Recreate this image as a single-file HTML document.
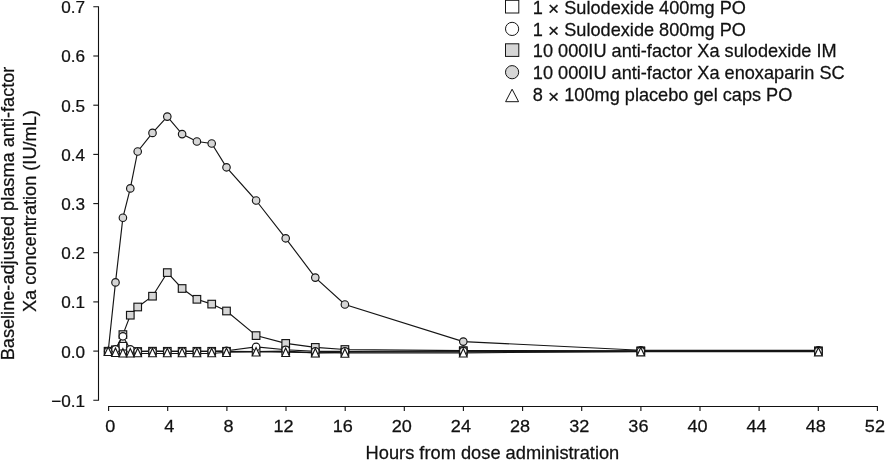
<!DOCTYPE html>
<html><head><meta charset="utf-8"><title>Chart</title>
<style>
html,body{margin:0;padding:0;background:#fff;}
body{width:885px;height:460px;overflow:hidden;}
svg{display:block;}
text{font-family:"Liberation Sans",sans-serif;font-size:17.5px;fill:#111;stroke:#111;stroke-width:0.25px;}
text.n{font-size:16.9px;}
</style></head><body>
<svg width="885" height="460" viewBox="0 0 885 460">
<rect width="885" height="460" fill="#fff"/>
<path d="M93.3 6.8H98.5V400.3H93.3" fill="none" stroke="#111" stroke-width="1.1"/>
<path d="M93.3 56.0H98.5" stroke="#111" stroke-width="1.1"/>
<path d="M93.3 105.2H98.5" stroke="#111" stroke-width="1.1"/>
<path d="M93.3 154.4H98.5" stroke="#111" stroke-width="1.1"/>
<path d="M93.3 203.6H98.5" stroke="#111" stroke-width="1.1"/>
<path d="M93.3 252.7H98.5" stroke="#111" stroke-width="1.1"/>
<path d="M93.3 301.9H98.5" stroke="#111" stroke-width="1.1"/>
<path d="M93.3 351.1H98.5" stroke="#111" stroke-width="1.1"/>
<path d="M108.6 411V406.5H877.4V411" fill="none" stroke="#111" stroke-width="1.1"/>
<path d="M167.7 406.5V411" stroke="#111" stroke-width="1.1"/>
<path d="M226.9 406.5V411" stroke="#111" stroke-width="1.1"/>
<path d="M286.0 406.5V411" stroke="#111" stroke-width="1.1"/>
<path d="M345.2 406.5V411" stroke="#111" stroke-width="1.1"/>
<path d="M404.3 406.5V411" stroke="#111" stroke-width="1.1"/>
<path d="M463.4 406.5V411" stroke="#111" stroke-width="1.1"/>
<path d="M522.6 406.5V411" stroke="#111" stroke-width="1.1"/>
<path d="M581.7 406.5V411" stroke="#111" stroke-width="1.1"/>
<path d="M640.9 406.5V411" stroke="#111" stroke-width="1.1"/>
<path d="M700.0 406.5V411" stroke="#111" stroke-width="1.1"/>
<path d="M759.1 406.5V411" stroke="#111" stroke-width="1.1"/>
<path d="M818.3 406.5V411" stroke="#111" stroke-width="1.1"/>
<polyline points="108.2,351.3 115.5,282.4 122.9,217.7 130.3,188.4 137.7,151.5 152.5,132.9 167.3,116.6 182.1,134.1 196.9,141.5 211.7,143.5 226.5,167.3 256.1,200.5 285.7,238.3 315.3,277.6 344.9,304.5 463.3,341.6 640.8,350.3 818.4,350.4" fill="none" stroke="#151515" stroke-width="1.15"/>
<polyline points="108.2,351.3 115.5,349.8 122.9,334.6 130.3,315.2 137.7,307.0 152.5,296.2 167.3,272.6 182.1,288.5 196.9,299.3 211.7,304.1 226.5,311.0 256.1,335.6 285.7,343.4 315.3,347.4 344.9,349.5 463.3,350.6 640.8,350.8 818.4,350.8" fill="none" stroke="#151515" stroke-width="1.15"/>
<polyline points="108.2,351.3 115.5,350.3 122.9,346.2 130.3,351.3 137.7,351.5 152.5,351.2 167.3,351.3 182.1,351.3 196.9,351.3 211.7,351.3 226.5,351.3 256.1,351.5 285.7,351.1 315.3,352.8 344.9,352.3 463.3,351.8 640.8,351.3 818.4,351.3" fill="none" stroke="#151515" stroke-width="1.15"/>
<polyline points="108.2,351.3 115.5,349.3 122.9,336.3 130.3,349.3 137.7,351.3 152.5,351.3 167.3,351.3 182.1,351.3 196.9,351.3 211.7,351.3 226.5,350.8 256.1,346.9 285.7,349.8 315.3,351.3 344.9,351.3 463.3,351.1 640.8,351.1 818.4,351.1" fill="none" stroke="#151515" stroke-width="1.15"/>
<polyline points="108.2,351.3 115.5,353.3 122.9,353.8 130.3,353.8 137.7,353.5 152.5,353.5 167.3,353.5 182.1,353.5 196.9,353.5 211.7,353.5 226.5,352.3 256.1,351.8 285.7,352.3 315.3,352.8 344.9,353.0 463.3,352.8 640.8,351.7 818.4,351.7" fill="none" stroke="#151515" stroke-width="1.15"/>
<rect x="104.4" y="347.5" width="7.6" height="7.6" fill="#d6d6d6" stroke="#151515" stroke-width="1.15"/>
<rect x="111.7" y="346.0" width="7.6" height="7.6" fill="#d6d6d6" stroke="#151515" stroke-width="1.15"/>
<rect x="119.1" y="330.8" width="7.6" height="7.6" fill="#d6d6d6" stroke="#151515" stroke-width="1.15"/>
<rect x="126.5" y="311.4" width="7.6" height="7.6" fill="#d6d6d6" stroke="#151515" stroke-width="1.15"/>
<rect x="133.9" y="303.2" width="7.6" height="7.6" fill="#d6d6d6" stroke="#151515" stroke-width="1.15"/>
<rect x="148.7" y="292.4" width="7.6" height="7.6" fill="#d6d6d6" stroke="#151515" stroke-width="1.15"/>
<rect x="163.5" y="268.8" width="7.6" height="7.6" fill="#d6d6d6" stroke="#151515" stroke-width="1.15"/>
<rect x="178.3" y="284.7" width="7.6" height="7.6" fill="#d6d6d6" stroke="#151515" stroke-width="1.15"/>
<rect x="193.1" y="295.5" width="7.6" height="7.6" fill="#d6d6d6" stroke="#151515" stroke-width="1.15"/>
<rect x="207.9" y="300.3" width="7.6" height="7.6" fill="#d6d6d6" stroke="#151515" stroke-width="1.15"/>
<rect x="222.7" y="307.2" width="7.6" height="7.6" fill="#d6d6d6" stroke="#151515" stroke-width="1.15"/>
<rect x="252.3" y="331.8" width="7.6" height="7.6" fill="#d6d6d6" stroke="#151515" stroke-width="1.15"/>
<rect x="281.9" y="339.6" width="7.6" height="7.6" fill="#d6d6d6" stroke="#151515" stroke-width="1.15"/>
<rect x="311.5" y="343.6" width="7.6" height="7.6" fill="#d6d6d6" stroke="#151515" stroke-width="1.15"/>
<rect x="341.1" y="345.7" width="7.6" height="7.6" fill="#d6d6d6" stroke="#151515" stroke-width="1.15"/>
<rect x="459.5" y="346.8" width="7.6" height="7.6" fill="#d6d6d6" stroke="#151515" stroke-width="1.15"/>
<rect x="637.0" y="347.0" width="7.6" height="7.6" fill="#d6d6d6" stroke="#151515" stroke-width="1.15"/>
<rect x="814.6" y="347.0" width="7.6" height="7.6" fill="#d6d6d6" stroke="#151515" stroke-width="1.15"/>
<circle cx="108.2" cy="351.3" r="3.75" fill="#d6d6d6" stroke="#151515" stroke-width="1.15"/>
<circle cx="115.5" cy="282.4" r="3.75" fill="#d6d6d6" stroke="#151515" stroke-width="1.15"/>
<circle cx="122.9" cy="217.7" r="3.75" fill="#d6d6d6" stroke="#151515" stroke-width="1.15"/>
<circle cx="130.3" cy="188.4" r="3.75" fill="#d6d6d6" stroke="#151515" stroke-width="1.15"/>
<circle cx="137.7" cy="151.5" r="3.75" fill="#d6d6d6" stroke="#151515" stroke-width="1.15"/>
<circle cx="152.5" cy="132.9" r="3.75" fill="#d6d6d6" stroke="#151515" stroke-width="1.15"/>
<circle cx="167.3" cy="116.6" r="3.75" fill="#d6d6d6" stroke="#151515" stroke-width="1.15"/>
<circle cx="182.1" cy="134.1" r="3.75" fill="#d6d6d6" stroke="#151515" stroke-width="1.15"/>
<circle cx="196.9" cy="141.5" r="3.75" fill="#d6d6d6" stroke="#151515" stroke-width="1.15"/>
<circle cx="211.7" cy="143.5" r="3.75" fill="#d6d6d6" stroke="#151515" stroke-width="1.15"/>
<circle cx="226.5" cy="167.3" r="3.75" fill="#d6d6d6" stroke="#151515" stroke-width="1.15"/>
<circle cx="256.1" cy="200.5" r="3.75" fill="#d6d6d6" stroke="#151515" stroke-width="1.15"/>
<circle cx="285.7" cy="238.3" r="3.75" fill="#d6d6d6" stroke="#151515" stroke-width="1.15"/>
<circle cx="315.3" cy="277.6" r="3.75" fill="#d6d6d6" stroke="#151515" stroke-width="1.15"/>
<circle cx="344.9" cy="304.5" r="3.75" fill="#d6d6d6" stroke="#151515" stroke-width="1.15"/>
<circle cx="463.3" cy="341.6" r="3.75" fill="#d6d6d6" stroke="#151515" stroke-width="1.15"/>
<circle cx="640.8" cy="350.3" r="3.75" fill="#d6d6d6" stroke="#151515" stroke-width="1.15"/>
<circle cx="818.4" cy="350.4" r="3.75" fill="#d6d6d6" stroke="#151515" stroke-width="1.15"/>
<rect x="104.4" y="347.5" width="7.6" height="7.6" fill="#fff" stroke="#151515" stroke-width="1.15"/>
<rect x="111.7" y="346.5" width="7.6" height="7.6" fill="#fff" stroke="#151515" stroke-width="1.15"/>
<rect x="119.1" y="342.4" width="7.6" height="7.6" fill="#fff" stroke="#151515" stroke-width="1.15"/>
<rect x="126.5" y="347.5" width="7.6" height="7.6" fill="#fff" stroke="#151515" stroke-width="1.15"/>
<rect x="133.9" y="347.7" width="7.6" height="7.6" fill="#fff" stroke="#151515" stroke-width="1.15"/>
<rect x="148.7" y="347.4" width="7.6" height="7.6" fill="#fff" stroke="#151515" stroke-width="1.15"/>
<rect x="163.5" y="347.5" width="7.6" height="7.6" fill="#fff" stroke="#151515" stroke-width="1.15"/>
<rect x="178.3" y="347.5" width="7.6" height="7.6" fill="#fff" stroke="#151515" stroke-width="1.15"/>
<rect x="193.1" y="347.5" width="7.6" height="7.6" fill="#fff" stroke="#151515" stroke-width="1.15"/>
<rect x="207.9" y="347.5" width="7.6" height="7.6" fill="#fff" stroke="#151515" stroke-width="1.15"/>
<rect x="222.7" y="347.5" width="7.6" height="7.6" fill="#fff" stroke="#151515" stroke-width="1.15"/>
<rect x="252.3" y="347.7" width="7.6" height="7.6" fill="#fff" stroke="#151515" stroke-width="1.15"/>
<rect x="281.9" y="347.3" width="7.6" height="7.6" fill="#fff" stroke="#151515" stroke-width="1.15"/>
<rect x="311.5" y="349.0" width="7.6" height="7.6" fill="#fff" stroke="#151515" stroke-width="1.15"/>
<rect x="341.1" y="348.5" width="7.6" height="7.6" fill="#fff" stroke="#151515" stroke-width="1.15"/>
<rect x="459.5" y="348.0" width="7.6" height="7.6" fill="#fff" stroke="#151515" stroke-width="1.15"/>
<rect x="637.0" y="347.5" width="7.6" height="7.6" fill="#fff" stroke="#151515" stroke-width="1.15"/>
<rect x="814.6" y="347.5" width="7.6" height="7.6" fill="#fff" stroke="#151515" stroke-width="1.15"/>
<circle cx="108.2" cy="351.3" r="3.75" fill="#fff" stroke="#151515" stroke-width="1.15"/>
<circle cx="115.5" cy="349.3" r="3.75" fill="#fff" stroke="#151515" stroke-width="1.15"/>
<circle cx="122.9" cy="336.3" r="3.75" fill="#fff" stroke="#151515" stroke-width="1.15"/>
<circle cx="130.3" cy="349.3" r="3.75" fill="#fff" stroke="#151515" stroke-width="1.15"/>
<circle cx="137.7" cy="351.3" r="3.75" fill="#fff" stroke="#151515" stroke-width="1.15"/>
<circle cx="152.5" cy="351.3" r="3.75" fill="#fff" stroke="#151515" stroke-width="1.15"/>
<circle cx="167.3" cy="351.3" r="3.75" fill="#fff" stroke="#151515" stroke-width="1.15"/>
<circle cx="182.1" cy="351.3" r="3.75" fill="#fff" stroke="#151515" stroke-width="1.15"/>
<circle cx="196.9" cy="351.3" r="3.75" fill="#fff" stroke="#151515" stroke-width="1.15"/>
<circle cx="211.7" cy="351.3" r="3.75" fill="#fff" stroke="#151515" stroke-width="1.15"/>
<circle cx="226.5" cy="350.8" r="3.75" fill="#fff" stroke="#151515" stroke-width="1.15"/>
<circle cx="256.1" cy="346.9" r="3.75" fill="#fff" stroke="#151515" stroke-width="1.15"/>
<circle cx="285.7" cy="349.8" r="3.75" fill="#fff" stroke="#151515" stroke-width="1.15"/>
<circle cx="315.3" cy="351.3" r="3.75" fill="#fff" stroke="#151515" stroke-width="1.15"/>
<circle cx="344.9" cy="351.3" r="3.75" fill="#fff" stroke="#151515" stroke-width="1.15"/>
<circle cx="463.3" cy="351.1" r="3.75" fill="#fff" stroke="#151515" stroke-width="1.15"/>
<circle cx="640.8" cy="351.1" r="3.75" fill="#fff" stroke="#151515" stroke-width="1.15"/>
<circle cx="818.4" cy="351.1" r="3.75" fill="#fff" stroke="#151515" stroke-width="1.15"/>
<polygon points="108.2,347.1 104.2,355.5 112.1,355.5" fill="#fff" stroke="#151515" stroke-width="1.15"/>
<polygon points="115.5,348.1 111.6,356.5 119.4,356.5" fill="#fff" stroke="#151515" stroke-width="1.15"/>
<polygon points="122.9,348.6 119.0,357.0 126.8,357.0" fill="#fff" stroke="#151515" stroke-width="1.15"/>
<polygon points="130.3,348.6 126.4,357.0 134.2,357.0" fill="#fff" stroke="#151515" stroke-width="1.15"/>
<polygon points="137.7,348.3 133.8,356.7 141.6,356.7" fill="#fff" stroke="#151515" stroke-width="1.15"/>
<polygon points="152.5,348.3 148.6,356.7 156.4,356.7" fill="#fff" stroke="#151515" stroke-width="1.15"/>
<polygon points="167.3,348.3 163.4,356.7 171.2,356.7" fill="#fff" stroke="#151515" stroke-width="1.15"/>
<polygon points="182.1,348.3 178.2,356.7 186.0,356.7" fill="#fff" stroke="#151515" stroke-width="1.15"/>
<polygon points="196.9,348.3 193.0,356.7 200.8,356.7" fill="#fff" stroke="#151515" stroke-width="1.15"/>
<polygon points="211.7,348.3 207.8,356.7 215.6,356.7" fill="#fff" stroke="#151515" stroke-width="1.15"/>
<polygon points="226.5,348.1 222.6,356.5 230.4,356.5" fill="#fff" stroke="#151515" stroke-width="1.15"/>
<polygon points="256.1,347.6 252.2,356.0 260.0,356.0" fill="#fff" stroke="#151515" stroke-width="1.15"/>
<polygon points="285.7,348.1 281.8,356.5 289.6,356.5" fill="#fff" stroke="#151515" stroke-width="1.15"/>
<polygon points="315.3,348.6 311.4,357.0 319.2,357.0" fill="#fff" stroke="#151515" stroke-width="1.15"/>
<polygon points="344.9,348.8 341.0,357.2 348.8,357.2" fill="#fff" stroke="#151515" stroke-width="1.15"/>
<polygon points="463.3,348.6 459.4,357.0 467.2,357.0" fill="#fff" stroke="#151515" stroke-width="1.15"/>
<polygon points="640.8,347.5 636.9,355.9 644.7,355.9" fill="#fff" stroke="#151515" stroke-width="1.15"/>
<polygon points="818.4,347.5 814.5,355.9 822.3,355.9" fill="#fff" stroke="#151515" stroke-width="1.15"/>
<text transform="translate(85.0 13.2) scale(1.015 1)" text-anchor="end" class="n">0.7</text>
<text transform="translate(85.0 62.4) scale(1.015 1)" text-anchor="end" class="n">0.6</text>
<text transform="translate(85.0 111.6) scale(1.015 1)" text-anchor="end" class="n">0.5</text>
<text transform="translate(85.0 160.8) scale(1.015 1)" text-anchor="end" class="n">0.4</text>
<text transform="translate(85.0 210.0) scale(1.015 1)" text-anchor="end" class="n">0.3</text>
<text transform="translate(85.0 259.1) scale(1.015 1)" text-anchor="end" class="n">0.2</text>
<text transform="translate(85.0 308.3) scale(1.015 1)" text-anchor="end" class="n">0.1</text>
<text transform="translate(85.0 357.5) scale(1.015 1)" text-anchor="end" class="n">0.0</text>
<text transform="translate(85.0 406.7) scale(1.015 1)" text-anchor="end" class="n">−0.1</text>
<text transform="translate(110.2 432.3) scale(1.07 1)" text-anchor="middle" class="n">0</text>
<text transform="translate(169.3 432.3) scale(1.07 1)" text-anchor="middle" class="n">4</text>
<text transform="translate(228.5 432.3) scale(1.07 1)" text-anchor="middle" class="n">8</text>
<text transform="translate(283.5 432.3) scale(1.07 1)" text-anchor="middle" class="n">12</text>
<text transform="translate(342.7 432.3) scale(1.07 1)" text-anchor="middle" class="n">16</text>
<text transform="translate(401.8 432.3) scale(1.07 1)" text-anchor="middle" class="n">20</text>
<text transform="translate(460.9 432.3) scale(1.07 1)" text-anchor="middle" class="n">24</text>
<text transform="translate(520.1 432.3) scale(1.07 1)" text-anchor="middle" class="n">28</text>
<text transform="translate(579.2 432.3) scale(1.07 1)" text-anchor="middle" class="n">32</text>
<text transform="translate(638.4 432.3) scale(1.07 1)" text-anchor="middle" class="n">36</text>
<text transform="translate(697.5 432.3) scale(1.07 1)" text-anchor="middle" class="n">40</text>
<text transform="translate(756.6 432.3) scale(1.07 1)" text-anchor="middle" class="n">44</text>
<text transform="translate(815.8 432.3) scale(1.07 1)" text-anchor="middle" class="n">48</text>
<text transform="translate(874.9 432.3) scale(1.07 1)" text-anchor="middle" class="n">52</text>
<text transform="translate(365.6 459.2) scale(1.044 1)">Hours from dose administration</text>
<text transform="translate(13.8 360.3) rotate(-90) scale(1.038 1)">Baseline-adjusted plasma anti-factor</text>
<text transform="translate(35.9 312) rotate(-90) scale(1.038 1)">Xa concentration (IU/mL)</text>
<rect x="505.5" y="0.3" width="13.3" height="12.7" fill="#fff" stroke="#151515" stroke-width="1"/>
<circle cx="512.1" cy="28.9" r="6.6" fill="#fff" stroke="#151515" stroke-width="1"/>
<rect x="505.5" y="43.8" width="13.3" height="12.6" fill="#d6d6d6" stroke="#151515" stroke-width="1"/>
<circle cx="512.1" cy="72.2" r="6.6" fill="#d6d6d6" stroke="#151515" stroke-width="1"/>
<polygon points="512.1,89.2 505.6,101.7 518.6,101.7" fill="#fff" stroke="#151515" stroke-width="1"/>
<text transform="translate(532.8 13.7) scale(1.038 1)">1 <tspan dy="1.4" font-size="18.5">×</tspan><tspan dy="-1.4"> </tspan>Sulodexide 400mg PO</text>
<text transform="translate(532.8 35.5) scale(1.038 1)">1 <tspan dy="1.4" font-size="18.5">×</tspan><tspan dy="-1.4"> </tspan>Sulodexide 800mg PO</text>
<text transform="translate(532.8 57.4) scale(1.038 1)">10 000IU anti-factor Xa sulodexide IM</text>
<text transform="translate(532.8 79.3) scale(1.038 1)">10 000IU anti-factor Xa enoxaparin SC</text>
<text transform="translate(532.8 101.2) scale(1.038 1)">8 <tspan dy="1.4" font-size="18.5">×</tspan><tspan dy="-1.4"> </tspan>100mg placebo gel caps PO</text>
</svg>
</body></html>
